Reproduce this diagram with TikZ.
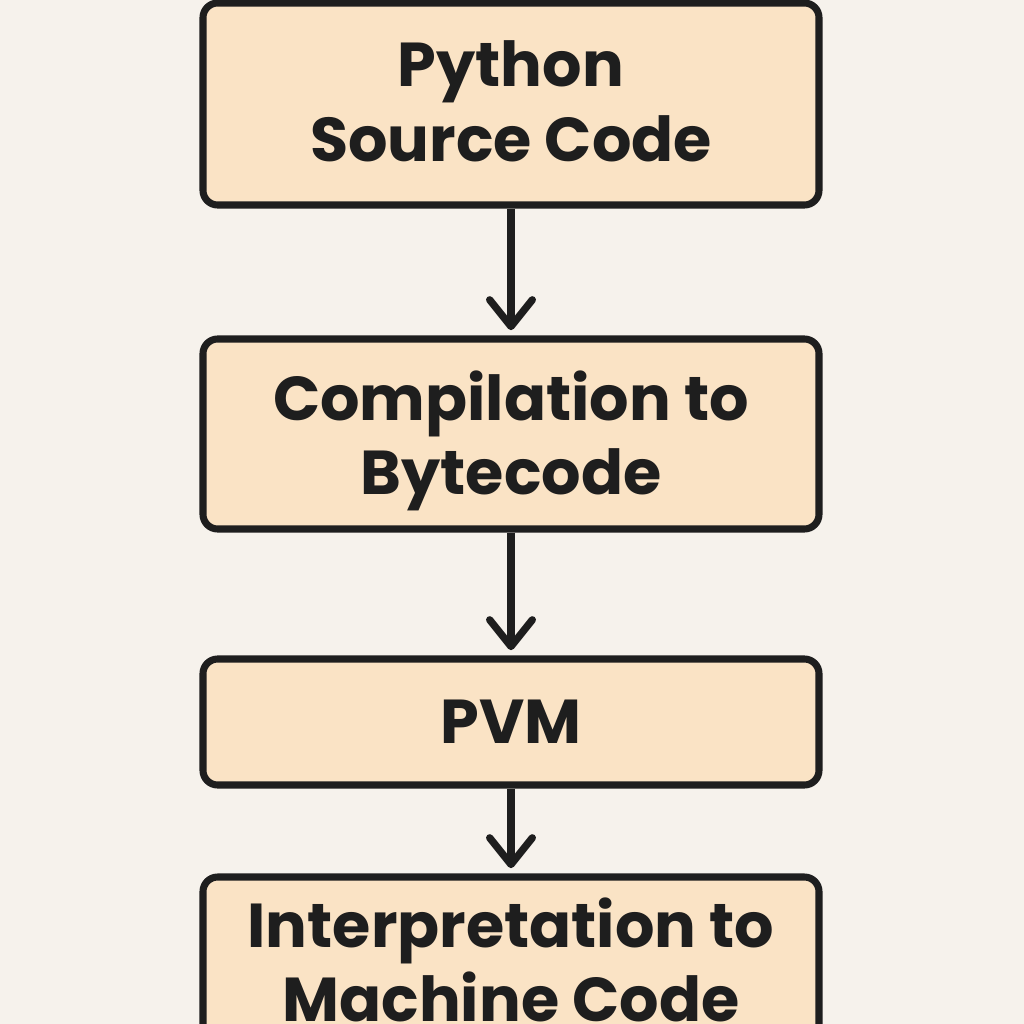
\documentclass[tikz,border=0pt]{standalone}
\usepackage{fontspec}
\setmainfont{Poppins}
\usetikzlibrary{arrows.meta}
\definecolor{bg}{HTML}{F6F2EC}
\definecolor{boxfill}{HTML}{FAE3C5}
\definecolor{ink}{HTML}{1E1E1E}
\begin{document}
\begin{tikzpicture}[x=0.75pt,y=-0.75pt,
  stage/.style={draw=ink, fill=boxfill, line width=5.3pt, rounded corners=11pt,
    minimum width=462pt, inner sep=0pt},
  caption/.style={inner sep=0pt, align=center, text=ink,
    font=\fontsize{46.5}{56}\selectfont\bfseries},
  flow/.style={draw=ink, line width=5.5pt,
    -{Straight Barb[length=20pt,width=32pt,line cap=round,line join=round]}, shorten >=4pt}]
\fill[bg] (0,0) rectangle (1024,1024);
\useasboundingbox (0,0) rectangle (1024,1024);
\begin{scope}
\clip (0,0) rectangle (1024,1024);
\node[stage, minimum height=151.5pt] (src) at (511,104) {};
\node[caption] (srct) at (511,101) {Python\\Source Code};
\node[stage, minimum height=142.5pt] (comp) at (511,434) {};
\node[caption] (compt) at (511,441) {Compilation to\\Bytecode};
\node[stage, minimum height=94.5pt] (pvm) at (511,722) {};
\node[caption] (pvmt) at (511,722) {PVM};
\node[stage, minimum height=124.5pt] (interp) at (511,960) {};
\node[caption] (interpt) at (511,960) {Interpretation to\\Machine Code};
\draw[flow] (src.south) -- (comp.north);
\draw[flow] (comp.south) -- (pvm.north);
\draw[flow] (pvm.south) -- (interp.north);
\end{scope}
\end{tikzpicture}
\end{document}
